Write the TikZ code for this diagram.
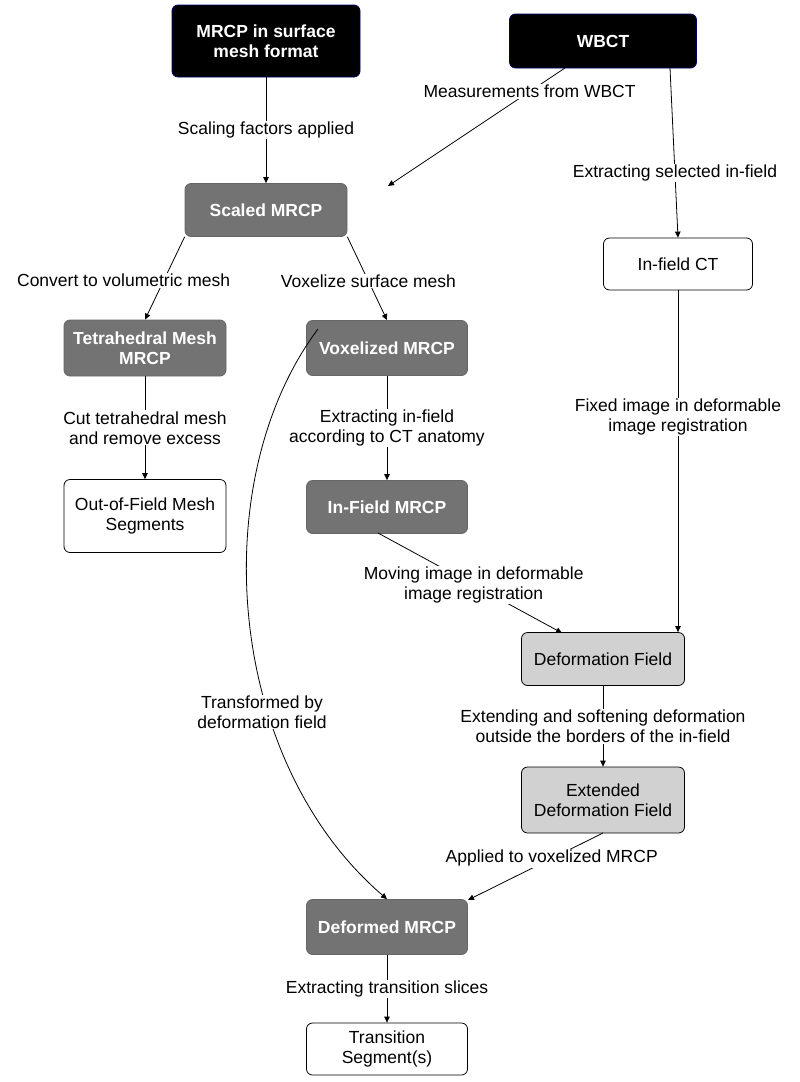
\documentclass[tikz,border=0pt]{standalone}
\usepackage{fontspec}
\setmainfont{Liberation Sans}
\usetikzlibrary{arrows.meta}
\begin{document}
\begin{tikzpicture}[x=1pt,y=-1pt,
  base/.style={draw, rounded corners=6pt, align=center, font=\fontsize{17.5}{20}\selectfont, line width=0.8pt, inner sep=1pt},
  blk/.style={base, fill=black, text=white, font=\fontsize{17.5}{20}\selectfont\bfseries, draw=blue!40!black},
  dk/.style={base, fill=black!55, text=white, font=\fontsize{17.5}{20}\selectfont\bfseries, draw=black!60},
  lt/.style={base, fill=black!18},
  wt/.style={base, fill=white},
  lbl/.style={fill=white, align=center, font=\fontsize{17.5}{20}\selectfont, inner sep=1pt},
  arr/.style={-{Triangle[length=6pt,width=5.5pt]}, line width=0.8pt}]
\useasboundingbox (0,0) rectangle (800,1082);
\node[blk, minimum width=188, minimum height=72] (mrcp) at (266,41) {MRCP in surface\\mesh format};
\node[blk, minimum width=187, minimum height=54] (wbct) at (603,41) {WBCT};
\node[dk, minimum width=162, minimum height=53] (scaled) at (266,210) {Scaled MRCP};
\node[wt, minimum width=149, minimum height=52] (ifct) at (678,264) {In-field CT};
\node[dk, minimum width=162, minimum height=56] (tet) at (145,348) {Tetrahedral Mesh\\MRCP};
\node[dk, minimum width=161, minimum height=55] (vox) at (387,348) {Voxelized MRCP};
\node[wt, minimum width=162, minimum height=73] (oof) at (145,516) {Out-of-Field Mesh\\Segments};
\node[dk, minimum width=161, minimum height=53] (ifm) at (387,507) {In-Field MRCP};
\node[lt, minimum width=163, minimum height=53] (df) at (603,659) {Deformation Field};
\node[lt, minimum width=163, minimum height=66] (edf) at (603,800) {Extended\\Deformation Field};
\node[dk, minimum width=161, minimum height=55] (dm) at (387,927) {Deformed MRCP};
\node[wt, minimum width=161, minimum height=52] (ts) at (387,1049) {Transition\\Segment(s)};

\draw[arr] (mrcp) -- (scaled) node[lbl, pos=0.5] {Scaling factors applied};
\coordinate (w1) at (565,68); \coordinate (s1) at (388,186);
\draw[arr] (w1) -- (s1) node[lbl, pos=0.2] {Measurements from WBCT};
\coordinate (w2) at (670,68);
\draw[arr] (w2) -- (ifct.north) node[lbl, pos=0.62] {Extracting selected in-field};
\draw[arr] (scaled.south west) -- (tet.north) node[lbl, pos=0.53, xshift=-40pt] {Convert to volumetric mesh};
\draw[arr] (scaled.south east) -- (vox.north) node[lbl, pos=0.53] {Voxelize surface mesh};
\draw[arr] (tet) -- (oof) node[lbl, pos=0.5] {Cut tetrahedral mesh\\and remove excess};
\draw[arr] (vox) -- (ifm) node[lbl, pos=0.5] {Extracting in-field\\according to CT anatomy};
\draw[arr] (ifct) -- (ifct |- df.north) node[lbl, pos=0.37] {Fixed image in deformable\\image registration};
\coordinate (i1) at (378,533); \coordinate (d1) at (562,633);
\draw[arr] (i1) -- (d1) node[lbl, pos=0.52] {Moving image in deformable\\image registration};
\draw[arr] (df) -- (edf) node[lbl, pos=0.5] {Extending and softening deformation\\outside the borders of the in-field};
\coordinate (e1) at (603,833); \coordinate (m1) at (468,900);
\draw[arr] (e1) -- (m1) node[lbl, pos=0.38] {Applied to voxelized MRCP};
\coordinate (v1) at (318,329);
\draw[arr] (v1) .. controls (205,480) and (225,760) .. (dm.north);
\node[lbl] (tl) at (262,712) {Transformed by\\deformation field};
\draw[arr] (dm) -- (ts) node[lbl, pos=0.5] {Extracting transition slices};
\end{tikzpicture}
\end{document}
